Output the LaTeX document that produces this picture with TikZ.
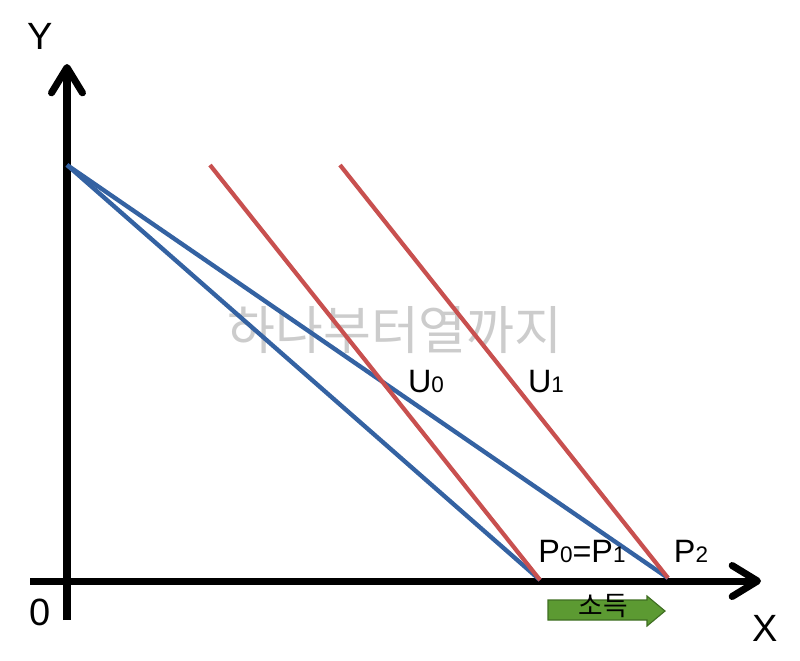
\documentclass[tikz,border=0pt]{standalone}
\usepackage{fontspec}
\setmainfont{Liberation Sans}
\newfontfamily\kofont{Noto Sans CJK KR}
\usetikzlibrary{arrows.meta}
\definecolor{budgetblue}{HTML}{3462A2}
\definecolor{utilred}{HTML}{C8504F}
\definecolor{incgreen}{HTML}{5C9A32}
\definecolor{incedge}{HTML}{3F6E22}
\newcommand\lowidx[1]{{\fontsize{16}{16}\selectfont #1}}

\begin{document}
\begin{tikzpicture}[x=0.025cm, y=-0.025cm,
    axis/.style={line width=5pt, -{Straight Barb[length=18pt,width=22pt,round]}},
    budget/.style={line width=3.1pt, budgetblue},
    indiff/.style={line width=3pt, utilred},
    lbl/.style={font=\fontsize{23}{23}\selectfont, inner sep=0pt},
    axlbl/.style={font=\fontsize{27}{27}\selectfont, inner sep=0pt}]
  \useasboundingbox (0,0) rectangle (800,660);
  % watermark
  \node[font=\kofont\fontsize{37}{37}\selectfont, text=black!20] (wm) at (395,330) {하나부터열까지};
  % axes
  \coordinate (O) at (67,581);
  \coordinate (ybot) at (67,620);
  \coordinate (ytop) at (67,64);
  \coordinate (xleft) at (30,581);
  \coordinate (xright) at (761,581);
  \draw[axis] (ybot) -- (ytop);
  \draw[axis] (xleft) -- (xright);
  \node[axlbl] (ylab) at (40,36) {Y};
  \node[axlbl] (xlab) at (765,628) {X};
  \node[axlbl] (olab) at (40,612) {0};
  % budget lines
  \coordinate (Ymax) at (67,165);
  \coordinate (P0) at (540,580);
  \coordinate (P2) at (668,578);
  \draw[budget] (Ymax) -- (P0);
  \draw[budget] (Ymax) -- (P2);
  % indifference lines
  \coordinate (u0top) at (210,165);
  \coordinate (u1top) at (340,165);
  \draw[indiff] (u0top) -- (P0);
  \draw[indiff] (u1top) -- (P2);
  \node[lbl] (U0) at (426,382) {U\lowidx{0}};
  \node[lbl] (U1) at (546,382) {U\lowidx{1}};
  \node[lbl] (P01) at (582,551) {P\lowidx{0}=P\lowidx{1}};
  \node[lbl] (P2lab) at (691,551) {P\lowidx{2}};
  % income shift
  \draw[incedge, fill=incgreen, line width=0.8pt]
    (548,600) -- (647,600) -- (647,596) -- (665,611) -- (647,626) -- (647,620) -- (548,620) -- cycle;
  \node[font=\kofont\fontsize{19}{19}\selectfont, inner sep=0pt] (inc) at (603,606) {소득};
\end{tikzpicture}
\end{document}
